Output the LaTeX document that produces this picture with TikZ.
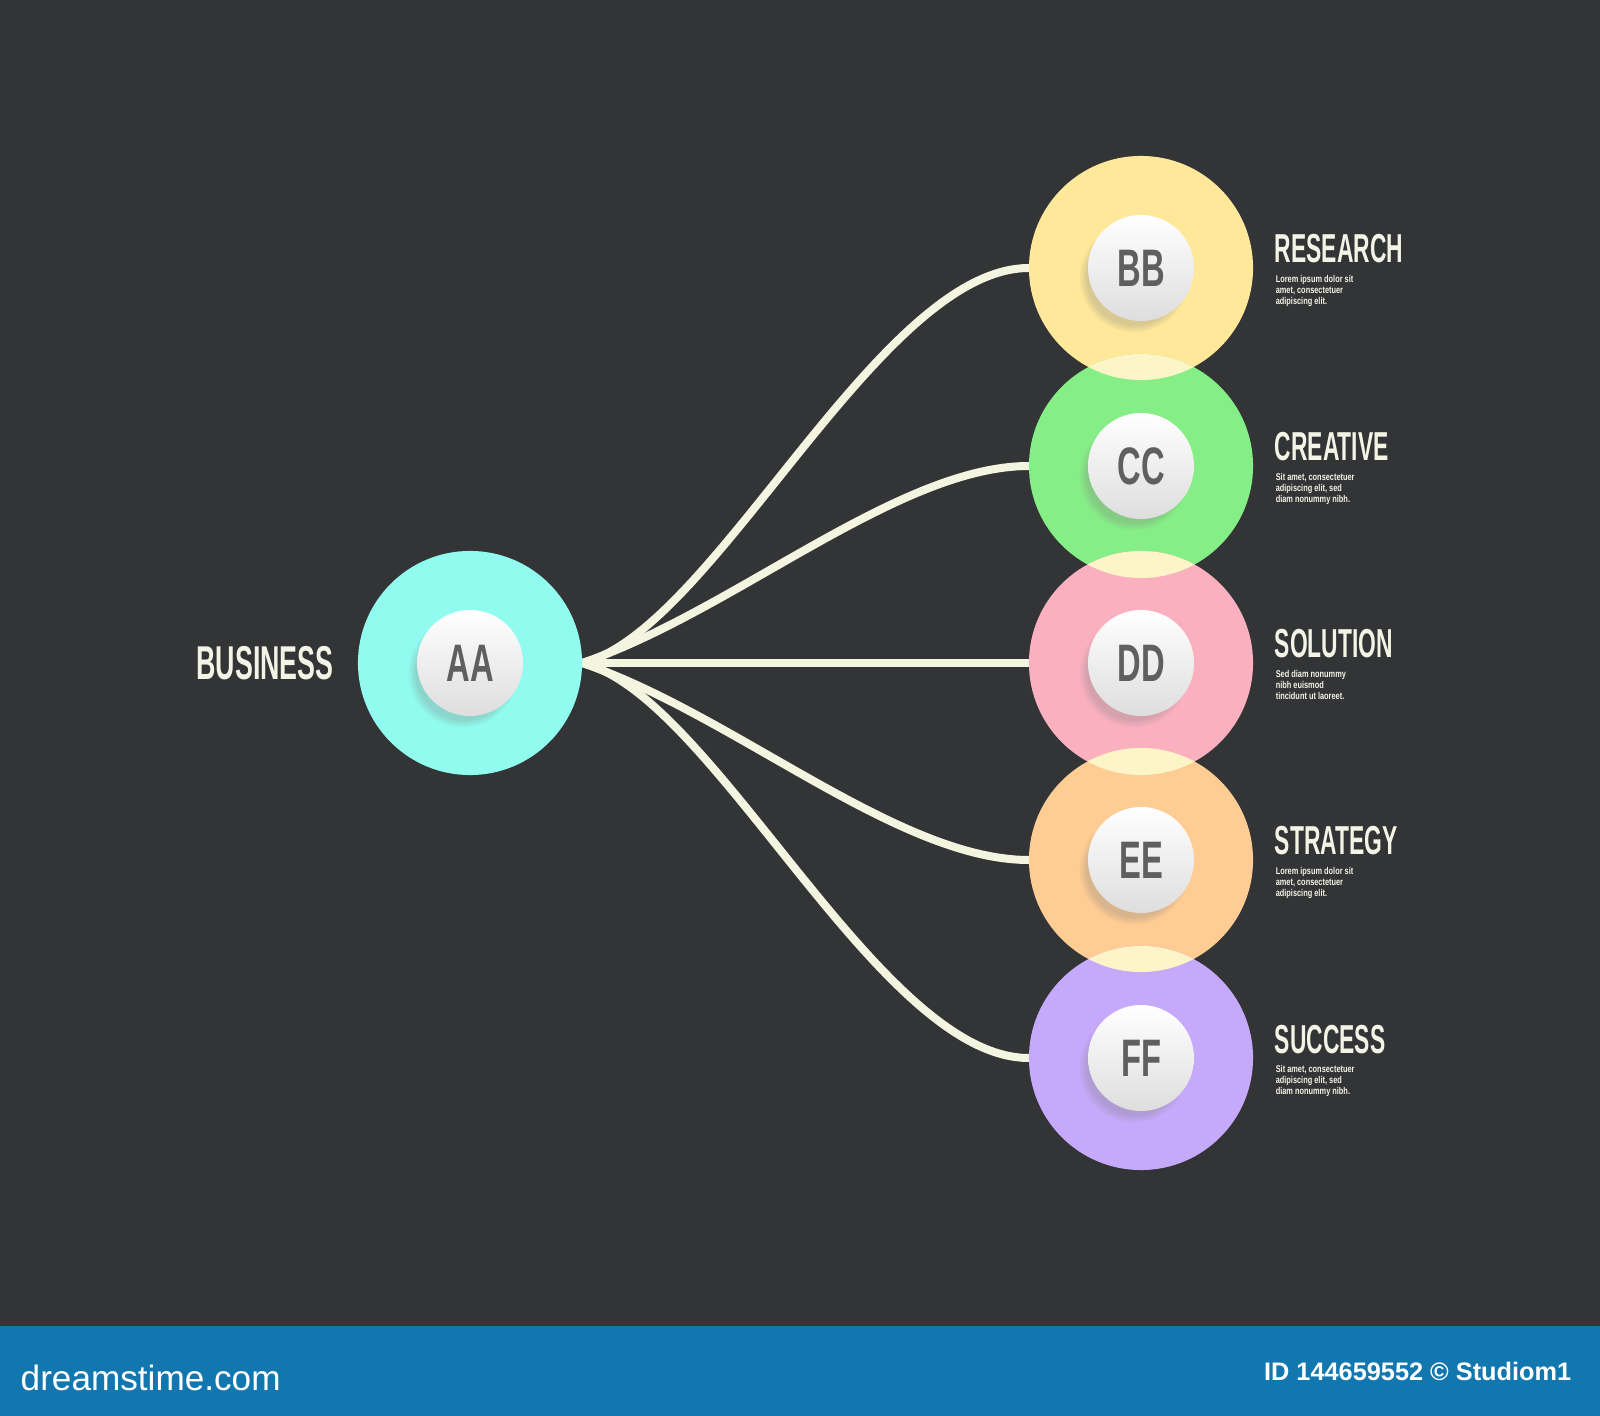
\documentclass[tikz,border=0pt]{standalone}
\usepackage{fontspec}
\usetikzlibrary{shadows,positioning}
\newfontfamily\headfont[FakeStretch=0.565]{Liberation Sans}
\newfontfamily\knobfont[FakeStretch=0.62]{Liberation Sans}
\newfontfamily\notefont[FakeStretch=0.75]{Liberation Sans}

\definecolor{bgdark}{HTML}{333436}
\definecolor{barblue}{HTML}{1177AE}
\definecolor{linkcream}{HTML}{F4F5E1}
\definecolor{lapcream}{HTML}{FDF4C8}
\definecolor{headwhite}{HTML}{F3F3E6}
\definecolor{lettergray}{HTML}{5F5F5F}
\definecolor{cAA}{HTML}{90FBEE}
\definecolor{cBB}{HTML}{FFE899}
\definecolor{cCC}{HTML}{86EE86}
\definecolor{cDD}{HTML}{FBB0C0}
\definecolor{cEE}{HTML}{FFCC93}
\definecolor{cFF}{HTML}{C5A9FA}

\pgfdeclarelayer{bg}
\pgfdeclarelayer{links}
\pgfsetlayers{bg,links,main}

\tikzset{
  disc/.style={circle, minimum size=2.24cm, inner sep=0pt, outer sep=0pt},
  knob/.style={circle, minimum size=1.06cm, inner sep=0pt, top color=white, bottom color=black!13,
    text=lettergray, font=\knobfont\bfseries\fontsize{15}{15}\selectfont,
    circular drop shadow={shadow xshift=-0.07cm, shadow yshift=-0.09cm, shadow scale=1.04, opacity=0.3}},
  link/.style={draw=linkcream, line width=0.08cm},
  heading/.style={anchor=base west, inner sep=0pt, text=headwhite, font=\headfont\bfseries\fontsize{11.5}{12}\selectfont},
  note/.style={anchor=north west, align=left, inner sep=0pt, text=headwhite, font=\notefont\bfseries\fontsize{2.8}{3.13}\selectfont}
}

\begin{document}
\begin{tikzpicture}[x=0.01cm, y=-0.01cm]
  \useasboundingbox (0,0) rectangle (1600,1416);
  \begin{pgfonlayer}{bg}
    \fill[bgdark] (0,0) rectangle (1600,1416);
    \fill[barblue] (0,1326) rectangle (1600,1416);
  \end{pgfonlayer}

  % big discs
  \node[disc, fill=cAA] (aa) at (470,663) {};
  \foreach \n/\y/\col in {bb/268/cBB, cc/466/cCC, dd/663/cDD, ee/860/cEE, ff/1058/cFF}
    \node[disc, fill=\col] (\n) at (1141,\y) {};

  % where two discs overlap
  \foreach \ua/\ub in {bb/cc, cc/dd, dd/ee, ee/ff}{
    \begin{scope}
      \clip (\ua.center) circle (1.12cm);
      \fill[lapcream] (\ub.center) circle (1.12cm);
    \end{scope}
  }

  % links
  \begin{pgfonlayer}{links}
    \draw[link] (aa.east) .. controls +(131,-31) and +(-151,0) .. (bb.west);
    \draw[link] (aa.east) .. controls +(151,-51) and +(-131,0) .. (cc.west);
    \draw[link] (aa.east) -- (dd.west);
    \draw[link] (aa.east) .. controls +(151,51) and +(-131,0) .. (ee.west);
    \draw[link] (aa.east) .. controls +(131,31) and +(-151,0) .. (ff.west);
  \end{pgfonlayer}

  % knobs
  \foreach \n/\lab in {aa/AA, bb/BB, cc/CC, dd/DD, ee/EE, ff/FF}
    \node[knob] (\n knob) at (\n.center) {\lab};

  \node[heading, anchor=center, font=\headfont\bfseries\fontsize{13.5}{14}\selectfont] (business) at (265,663) {BUSINESS};

  % headings and notes
  \foreach \n/\head/\txt in {
      bb/RESEARCH/{Lorem ipsum dolor sit\\amet, consectetuer\\adipiscing elit.},
      cc/CREATIVE/{Sit amet, consectetuer\\adipiscing elit, sed\\diam nonummy nibh.},
      dd/SOLUTION/{Sed diam nonummy\\nibh euismod\\tincidunt ut laoreet.},
      ee/STRATEGY/{Lorem ipsum dolor sit\\amet, consectetuer\\adipiscing elit.},
      ff/SUCCESS/{Sit amet, consectetuer\\adipiscing elit, sed\\diam nonummy nibh.}}{
    \node[heading] (\n head) at ([xshift=1.33cm, yshift=0.05cm]\n.center) {\head};
    \node[note] (\n note) at ([xshift=1.34cm, yshift=-0.065cm]\n.center) {\txt};
  }

  % bottom bar texts
  \node[anchor=west, inner sep=0pt, text=white, font=\fontsize{10}{11}\selectfont\fontspec{Liberation Sans}] (site) at (20,1378) {dreamstime.com};
  \node[anchor=east, inner sep=0pt, text=white, font=\fontsize{7.2}{8}\selectfont\fontspec{Liberation Sans}\bfseries] (credit) at (1572,1371) {ID 144659552 © Studiom1};
\end{tikzpicture}
\end{document}
